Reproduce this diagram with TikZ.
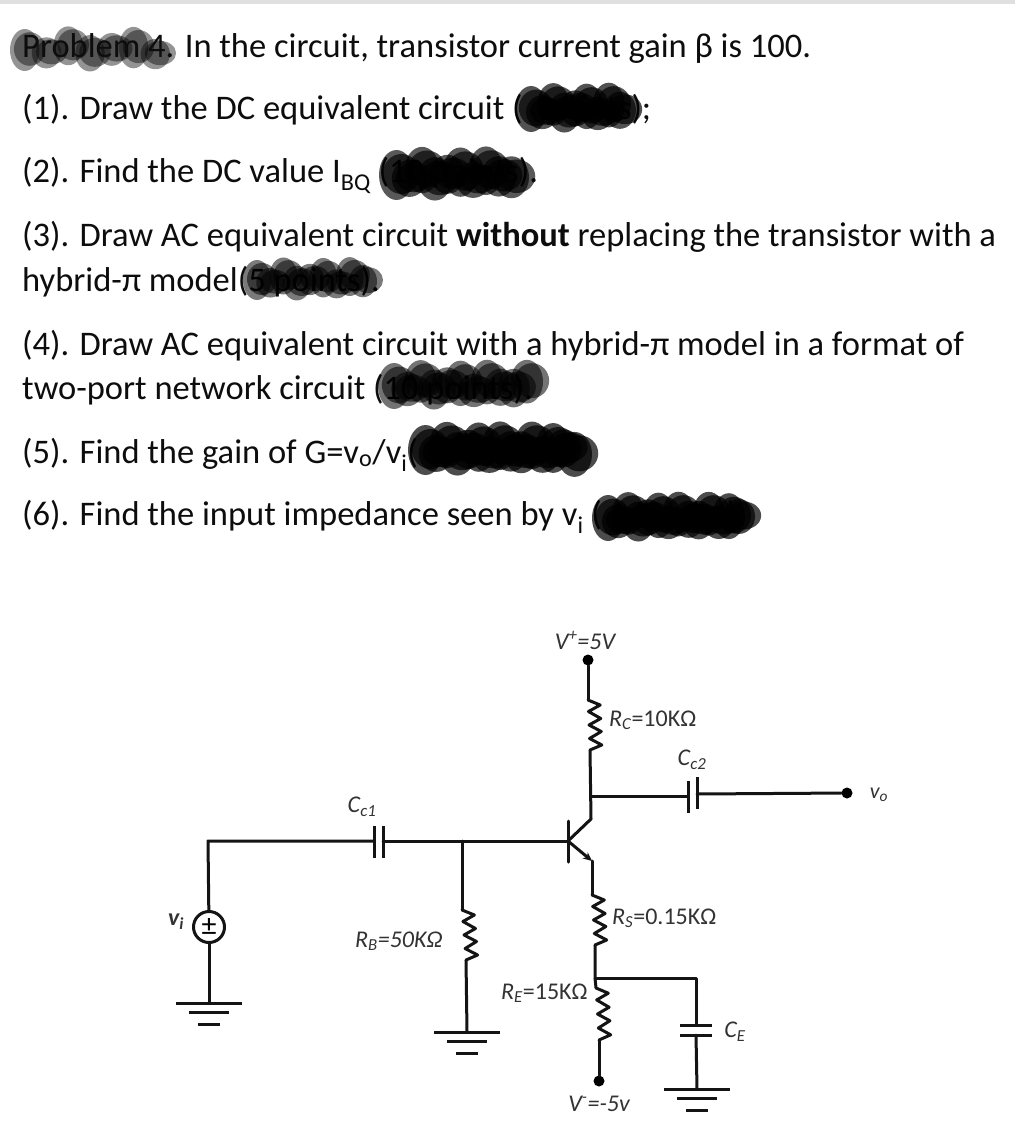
\documentclass[tikz,border=0pt]{standalone}
\usepackage{fontspec}
\setmainfont{Carlito}
\usetikzlibrary{calc,arrows.meta}
\tikzset{
  x=1pt,y=-1pt,
  wire/.style={line width=3pt,color=black!92,line cap=round,line join=round},
  dotnode/.style={circle,fill=black,inner sep=0pt,minimum size=11pt},
  srcnode/.style={circle,draw=black!92,line width=3pt,fill=white,inner sep=0pt,minimum size=31pt,font=\fontsize{30}{30}\selectfont},
  qtext/.style={anchor=base west,inner sep=0pt,font=\fontsize{34.5}{38}\selectfont,color=black!95},
  lab/.style={inner sep=0pt,font=\fontsize{24}{26}\selectfont\itshape,color=black!80},
}
% smear: x0, x1, y, vertical radius, strokes, opacity
\newcommand{\smear}[6]{%
  \foreach \k in {0,...,#5}{%
    \pgfmathsetmacro{\sx}{#1+#4*0.7+(#2-#1-1.4*#4-5)*\k/#5}%
    \pgfmathsetmacro{\sy}{#3+0.2*#4*sin(\k*137)}%
    \pgfmathsetmacro{\sr}{#4*(0.86+0.14*cos(\k*211))}%
    \fill[black,fill opacity=#6] (\sx,\sy) ellipse [x radius=0.7*#4,y radius=\sr];
    \fill[black,fill opacity=#6] (\sx+5,\sy-1) ellipse [x radius=0.75*#4,y radius=0.8*\sr];
  }%
}
% resistor: zigzag on the right side of the wire
\newcommand{\resz}[2]{%
  \draw[wire] (#1) -- ($(#1)!.1!(#2)+(12,0)$) -- ($(#1)!.23!(#2)$) -- ($(#1)!.37!(#2)+(12,0)$)
    -- ($(#1)!.5!(#2)$) -- ($(#1)!.63!(#2)+(12,0)$) -- ($(#1)!.77!(#2)$) -- ($(#1)!.9!(#2)+(12,0)$) -- (#2);
}
\newcommand{\gnd}[1]{%
  \draw[wire,line cap=butt] ([xshift=-33pt]#1) -- ([xshift=33pt]#1);
  \draw[wire,line cap=butt] ([xshift=-20pt,yshift=-9pt]#1) -- ([xshift=20pt,yshift=-9pt]#1);
  \draw[wire,line cap=butt] ([xshift=-11pt,yshift=-21pt]#1) -- ([xshift=11pt,yshift=-21pt]#1);
}
\begin{document}
\begin{tikzpicture}
\useasboundingbox (0,0) rectangle (1015,1123);
\fill[white] (0,0) rectangle (1015,1123);
\fill[black!12] (0,0) rectangle (1015,4);
% smear under the first line
\smear{10}{175}{50}{21}{6}{0.42}
% question text
\node[qtext] (t0) at (22,58) {Problem 4. In the circuit, transistor current gain β is 100.};
\node[qtext] (t1) at (22,120) {(1). Draw the DC equivalent circuit (\hspace{14pt} points);};
\node[qtext] (t2) at (22,183) {(2). Find the DC value I\textsubscript{BQ} (10 points).};
\node[qtext] (t3) at (22,246) {(3). Draw AC equivalent circuit \textbf{without} replacing the transistor with a};
\node[qtext] (t3b) at (22,291) {hybrid-π model(5 points).};
\node[qtext] (t4) at (22,355) {(4). Draw AC equivalent circuit with a hybrid-π model in a format of};
\node[qtext] (t4b) at (22,399) {two-port network circuit (10 points).};
\node[qtext] (t5) at (22,463) {(5). Find the gain of G=v\textsubscript{o}/v\textsubscript{i}(\hspace{139pt}).};
\node[qtext] (t6) at (22,525) {(6). Find the input impedance seen by v\textsubscript{i} (\hspace{125pt}).};
% smears
\smear{515}{641}{109}{23}{8}{0.68}
\smear{379}{534}{175}{25}{9}{0.65}
\smear{243}{382}{280}{20}{8}{0.52}
\smear{378}{548}{386}{23}{10}{0.55}
\smear{408}{597}{450}{25}{14}{0.7}
\smear{592}{760}{518}{23}{13}{0.7}
% circuit coordinates
\coordinate (vp) at (588,660);
\coordinate (rc1) at (588,700);
\coordinate (rc2) at (590,750);
\coordinate (cj) at (591,796);
\coordinate (ctop) at (591,819);
\coordinate (base) at (568,841);
\coordinate (bt) at (568,821);
\coordinate (bb) at (568,862);
\coordinate (etop) at (592,861);
\coordinate (rs1) at (592,895);
\coordinate (rs2) at (595,945);
\coordinate (ej) at (595,978);
\coordinate (re1) at (596,988);
\coordinate (re2) at (599,1040);
\coordinate (vm) at (599,1081);
\coordinate (c2a) at (688,796);
\coordinate (c2b) at (697,794);
\coordinate (vo) at (847,793);
\coordinate (in) at (208,841);
\coordinate (c1a) at (374,841);
\coordinate (c1b) at (383,841);
\coordinate (bj) at (462,841);
\coordinate (rb1) at (462,910);
\coordinate (rb2) at (466,960);
\coordinate (g1) at (209,1003);
\coordinate (g2) at (467,1032);
\coordinate (g3) at (697,1089);
\coordinate (cer) at (696,978);
\coordinate (cea) at (696,1025);
\coordinate (ceb) at (696,1035);
\node[srcnode] (src) at (209,927) {±};
\node[dotnode] (vpd) at (vp) {};
\node[dotnode] (vod) at (vo) {};
\node[dotnode] (vmd) at (vm) {};
% wiring
\draw[wire] (vpd) -- (rc1);
\resz{rc1}{rc2}
\draw[wire] (rc2) -- (ctop) -- (base);
\draw[wire] (bt) -- (bb);
\draw[wire,-{Stealth[length=9pt,width=8pt]}] (base) -- (etop);
\draw[wire] (etop) -- (rs1);
\resz{rs1}{rs2}
\draw[wire] (rs2) -- (ej) -- (re1);
\resz{re1}{re2}
\draw[wire] (re2) -- (vmd);
\draw[wire] (cj) -- (c2a);
\draw[wire] (c2b) -- (vod);
\draw[wire,line cap=butt] ([yshift=-17pt]c2a) -- ([yshift=15pt]c2a);
\draw[wire,line cap=butt] ([yshift=-15pt]c2b) -- ([yshift=17pt]c2b);
\draw[wire] (src) -- (in) -- (c1a);
\draw[wire] (c1b) -- (base);
\draw[wire,line cap=butt] ([yshift=-17pt]c1a) -- ([yshift=15pt]c1a);
\draw[wire,line cap=butt] ([yshift=-17pt]c1b) -- ([yshift=15pt]c1b);
\draw[wire] (src) -- (g1);
\draw[wire] (bj) -- (rb1);
\resz{rb1}{rb2}
\draw[wire] (rb2) -- (g2);
\draw[wire] (ej) -- (cer) -- (cea);
\draw[wire] (ceb) -- (g3);
\draw[wire,line cap=butt] ([xshift=-16pt]cea) -- ([xshift=16pt]cea);
\draw[wire,line cap=butt] ([xshift=-16pt]ceb) -- ([xshift=16pt]ceb);
\gnd{g1}
\gnd{g2}
\gnd{g3}
% labels
\node[lab] (lvp) at (585,640) {V\textsuperscript{+}=5V};
\node[lab,anchor=base west] (lrc) at (609,726) {R\textsubscript{C}\upshape=10KΩ};
\node[lab] (lc2) at (692,760) {C\textsubscript{c2}};
\node[lab,font=\fontsize{22}{24}\selectfont\itshape] (lvo) at (879,795) {v\textsubscript{o}};
\node[lab] (lc1) at (362,807) {C\textsubscript{c1}};
\node[lab,font=\fontsize{24}{26}\selectfont\itshape\bfseries] (lvi) at (176,922) {v\textsubscript{i}};
\node[lab,anchor=base west] (lrb) at (355,947) {R\textsubscript{B}=50KΩ};
\node[lab,anchor=base west] (lrs) at (612,924) {R\textsubscript{S}\upshape=0.15KΩ};
\node[lab,anchor=base west] (lre) at (501,999) {R\textsubscript{E}\upshape=15KΩ};
\node[lab] (lce) at (735,1032) {C\textsubscript{E}};
\node[lab] (lvm) at (599,1104) {V\textsuperscript{-}=-5v};
\end{tikzpicture}
\end{document}
